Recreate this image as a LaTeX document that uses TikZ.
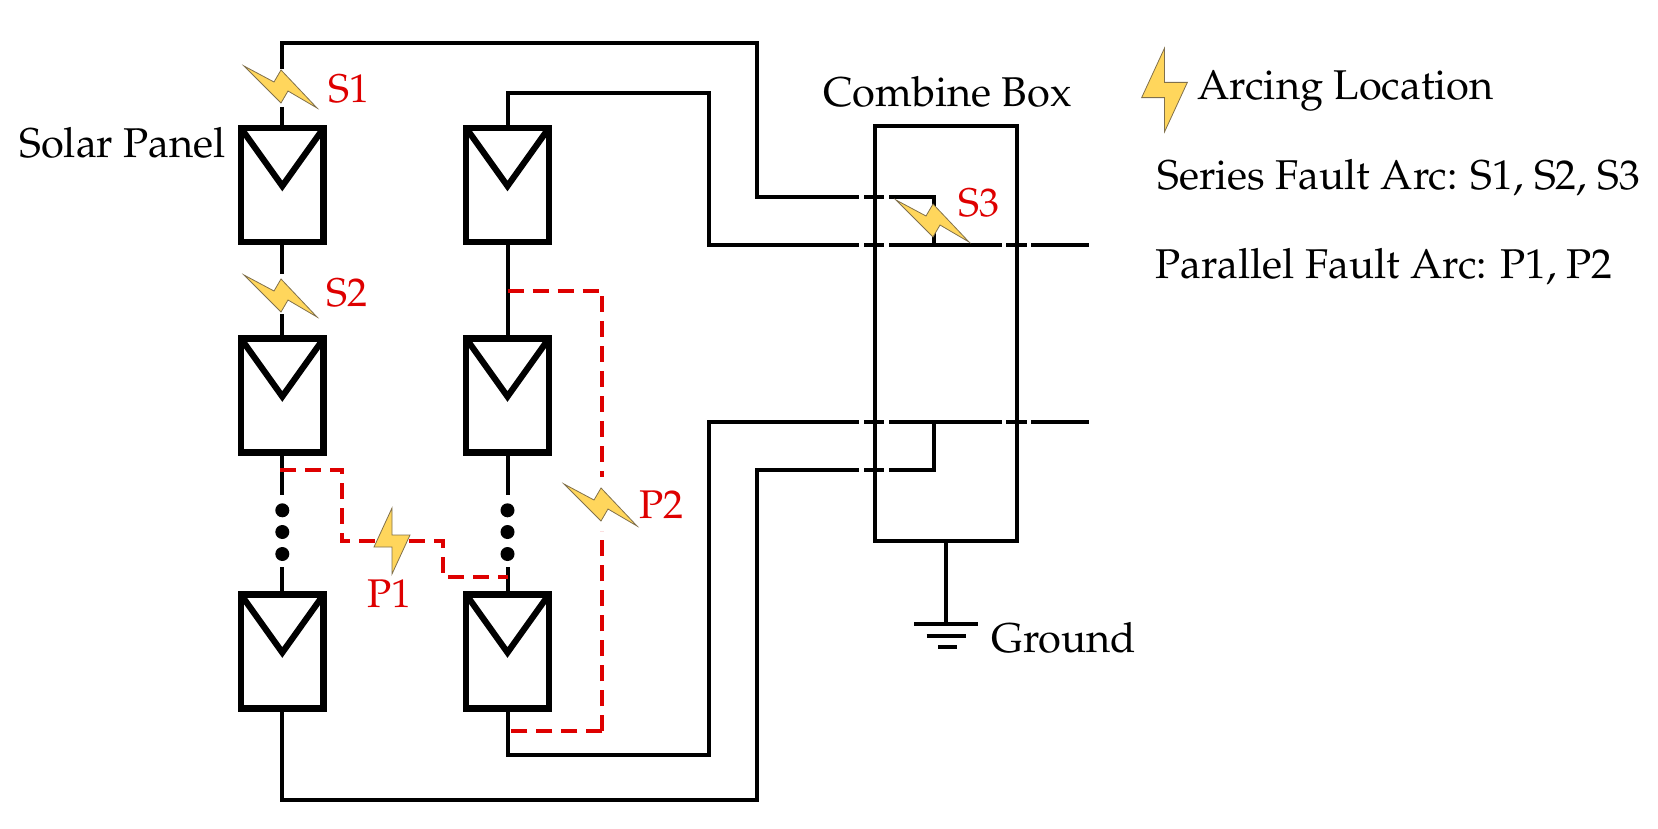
\documentclass[tikz,border=0pt]{standalone}
\usepackage[T1]{fontenc}
\usepackage{tikz}
\usetikzlibrary{calc}
\definecolor{colorBolt}{rgb}{1,0.84,0.36}
\definecolor{colorEdge}{rgb}{0.5,0.44,0.3}
\definecolor{colorFault}{rgb}{0.87,0,0}
\newcommand*{\labelfont}{\fontfamily{ppl}\fontsize{20.8}{25}\selectfont}
\newcommand*{\faultfont}{\fontfamily{ppl}\fontsize{20}{24}\selectfont}
\tikzset{
	panel/.style={draw, line width=3.3pt, minimum width=41.4pt, minimum height=57pt, inner sep=0pt, outer sep=0pt},
	wire/.style={line width=2pt, line join=miter},
	fault/.style={colorFault, line width=2.1pt, dash pattern=on 8pt off 4.5pt},
	txt/.style={anchor=base west, inner sep=0pt, font=\labelfont},
	faulttxt/.style={anchor=base west, inner sep=0pt, text=colorFault, font=\faultfont},
	dot/.style={circle, fill=black, minimum size=7pt, inner sep=0pt},
	pics/boltd/.style={code={
		\draw[fill=colorBolt, draw=colorEdge, line width=0.4pt]
			(-37,-21) -- (-7,-5) -- (0,-17) -- (36,21) -- (7,4) -- (0,16) -- cycle;
	}},
	pics/boltv/.style={code={
		\draw[fill=colorBolt, draw=colorEdge, line width=0.4pt]
			(0,-33) -- (0,-6) -- (18,-6) -- (0,33) -- (0,6) -- (-18,6) -- cycle;
	}},
}
\begin{document}
\begin{tikzpicture}[x=0.5pt,y=-0.5pt]
		\useasboundingbox (0,0) rectangle (1658,829);
		% panels
		\node[panel] (pA1) at (282.3,185) {};
		\node[panel] (pA2) at (282.3,395.5) {};
		\node[panel] (pA3) at (282.3,651.5) {};
		\node[panel] (pB1) at (507.5,185) {};
		\node[panel] (pB2) at (507.5,395.5) {};
		\node[panel] (pB3) at (507.5,651.5) {};
		\foreach \p in {pA1,pA2,pA3,pB1,pB2,pB3}{
			\draw[line width=3.1pt] (\p.north west) -- ($(\p.north)+(0,58)$) -- (\p.north east);
		}
		%
		\node[dot] (dA1) at (282.3,510.3) {};
		\node[dot] (dA2) at (282.3,532) {};
		\node[dot] (dA3) at (282.3,554) {};
		\node[dot] (dB1) at (507.5,510.3) {};
		\node[dot] (dB2) at (507.5,532) {};
		\node[dot] (dB3) at (507.5,554) {};
		%
		\coordinate (gS1a) at (282.3,69);
		\coordinate (gS1b) at (282.3,107);
		\coordinate (gS2a) at (282.3,274);
		\coordinate (gS2b) at (282.3,314);
		\coordinate (eA) at (282.3,495);
		\coordinate (fA) at (282.3,567);
		\coordinate (eB) at (507.5,495);
		\coordinate (fB) at (507.5,567);
		% strings
		\draw[wire] (gS1b) -- (pA1.north);
		\draw[wire] (pA1.south) -- (gS2a);
		\draw[wire] (gS2b) -- (pA2.north);
		\draw[wire] (pA2.south) -- (eA);
		\draw[wire] (fA) -- (pA3.north);
		\draw[wire] (pB1.south) -- (pB2.north);
		\draw[wire] (pB2.south) -- (eB);
		\draw[wire] (fB) -- (pB3.north);
		% combine box
		\node[draw, line width=2pt, minimum width=142.3*0.5pt, minimum height=415.3*0.5pt, inner sep=0pt, outer sep=0pt] (box) at (946.2,333.4) {};
		\coordinate (jT) at (934,245);
		\coordinate (jB) at (934,422.3);
		% outputs
		\draw[wire] (gS1a) |- (757,42.7) -- (757,197.3) -- (859.3,197.3);
		\draw[wire] (864,197.3) -- (884.3,197.3);
		\draw[wire] (889,197.3) -| (jT);
		\draw[wire] (pB1.north) |- (709,93) -- (709,245) -- (859.3,245);
		\draw[wire] (864,245) -- (884.3,245);
		\draw[wire] (889,245) -- (1001.7,245);
		\draw[wire] (1006,245) -- (1026.7,245);
		\draw[wire] (1031,245) -- (1089,245);
		\draw[wire] (pB3.south) |- (709,755) -- (709,422.3) -- (859.3,422.3);
		\draw[wire] (864,422.3) -- (884.3,422.3);
		\draw[wire] (889,422.3) -- (1001.7,422.3);
		\draw[wire] (1006,422.3) -- (1026.7,422.3);
		\draw[wire] (1031,422.3) -- (1089,422.3);
		\draw[wire] (pA3.south) |- (757,800) -- (757,469.7) -- (859.3,469.7);
		\draw[wire] (864,469.7) -- (884.3,469.7);
		\draw[wire] (889,469.7) -| (jB);
		% ground
		\coordinate (gnd) at (945.7,624.3);
		\draw[wire] (box.south -| gnd) -- (gnd);
		\draw[wire] (914.3,624.3) -- (977.7,624.3);
		\draw[wire] (926.7,636) -- (965.7,636);
		\draw[wire] (938,647) -- (957,647);
		% fault paths
		\coordinate (aF) at (280,470);
		\coordinate (bF) at (507.5,576.7);
		\draw[fault] (aF) -| (341.7,541) -| (443,576.7) -- (bF);
		\coordinate (cF) at (507.5,291);
		\coordinate (dF) at (507.5,731);
		\coordinate (kF) at (602.3,731);
		\draw[fault] (cF) -| (602.3,477);
		\draw[fault] (kF) -- (602.3,531);
		\draw[fault] (kF) -- (dF);
		% arcs
		\pic at (281,87) {boltd};
		\pic at (281,296) {boltd};
		\pic at (933,221) {boltd};
		\pic at (601,505) {boltd};
		\pic at (392,541) {boltv};
		\pic[scale=1.27] at (1164.5,90) {boltv};
		% labels
		\node[txt] (tPanel) at (19,157.5) {Solar Panel};
		\node[txt] (tBox) at (823,106) {Combine Box};
		\node[txt] (tArc) at (1197,99.3) {Arcing Location};
		\node[txt] (tSeries) at (1157,189.3) {Series Fault Arc: S1, S2, S3};
		\node[txt] (tParallel) at (1155,278.3) {Parallel Fault Arc: P1, P2};
		\node[txt] (tGround) at (991,652) {Ground};
		\node[faulttxt] (tS1) at (328,102.7) {S1};
		\node[faulttxt] (tS2) at (326,306.7) {S2};
		\node[faulttxt] (tS3) at (958,216) {S3};
		\node[faulttxt] (tP1) at (367,607) {P1};
		\node[faulttxt] (tP2) at (639,518) {P2};
\end{tikzpicture}
\end{document}
